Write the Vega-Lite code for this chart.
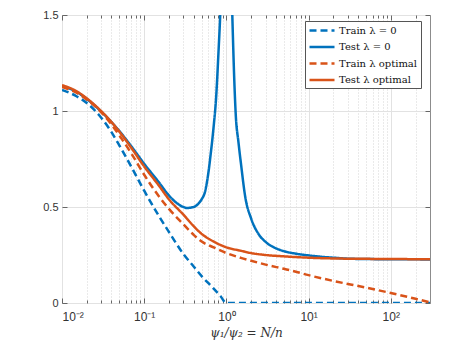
{
  "$schema": "https://vega.github.io/schema/vega-lite/v6.json",
  "width": 368,
  "height": 288,
  "autosize": "none",
  "padding": {"left": 62, "top": 15, "right": 44, "bottom": 39},
  "background": "white",
  "config": {
    "view": {"stroke": "#8c8c8c", "strokeWidth": 1},
    "font": "Liberation Sans",
    "axis": {"labelFont": "Liberation Sans", "labelFontSize": 11, "labelColor": "#333333", "tickColor": "#666666", "domain": false},
    "legend": {
      "orient": "none", "legendX": 243, "legendY": 6,
      "labelFont": "DejaVu Serif", "labelFontSize": 10, "labelColor": "#111111",
      "symbolType": "M-1,0H4", "symbolSize": 100, "symbolStrokeWidth": 2.5,
      "strokeColor": "#555555", "fillColor": "white",
      "padding": 3, "rowPadding": 4.5, "labelOffset": 18, "symbolOffset": 0
    }
  },
  "data": {
    "values": [
      {"s": "Train λ = 0", "x": 0.01, "y": 1.11},
      {"s": "Train λ = 0", "x": 0.015, "y": 1.077},
      {"s": "Train λ = 0", "x": 0.02, "y": 1.042},
      {"s": "Train λ = 0", "x": 0.03, "y": 0.965},
      {"s": "Train λ = 0", "x": 0.04, "y": 0.89},
      {"s": "Train λ = 0", "x": 0.05, "y": 0.82},
      {"s": "Train λ = 0", "x": 0.07, "y": 0.708},
      {"s": "Train λ = 0", "x": 0.1, "y": 0.585},
      {"s": "Train λ = 0", "x": 0.15, "y": 0.455},
      {"s": "Train λ = 0", "x": 0.2, "y": 0.37},
      {"s": "Train λ = 0", "x": 0.3, "y": 0.255},
      {"s": "Train λ = 0", "x": 0.4, "y": 0.19},
      {"s": "Train λ = 0", "x": 0.5, "y": 0.14},
      {"s": "Train λ = 0", "x": 0.7, "y": 0.075},
      {"s": "Train λ = 0", "x": 0.85, "y": 0.035},
      {"s": "Train λ = 0", "x": 1, "y": 0.0},
      {"s": "Train λ = 0", "x": 10, "y": 0.0},
      {"s": "Train λ = 0", "x": 300, "y": 0.0},
      {"s": "Test λ = 0", "x": 0.01, "y": 1.13},
      {"s": "Test λ = 0", "x": 0.015, "y": 1.1},
      {"s": "Test λ = 0", "x": 0.02, "y": 1.063},
      {"s": "Test λ = 0", "x": 0.03, "y": 0.997},
      {"s": "Test λ = 0", "x": 0.04, "y": 0.942},
      {"s": "Test λ = 0", "x": 0.05, "y": 0.895},
      {"s": "Test λ = 0", "x": 0.07, "y": 0.815},
      {"s": "Test λ = 0", "x": 0.1, "y": 0.725},
      {"s": "Test λ = 0", "x": 0.15, "y": 0.63},
      {"s": "Test λ = 0", "x": 0.2, "y": 0.56},
      {"s": "Test λ = 0", "x": 0.25, "y": 0.52},
      {"s": "Test λ = 0", "x": 0.3, "y": 0.5},
      {"s": "Test λ = 0", "x": 0.33, "y": 0.495},
      {"s": "Test λ = 0", "x": 0.4, "y": 0.5},
      {"s": "Test λ = 0", "x": 0.45, "y": 0.515},
      {"s": "Test λ = 0", "x": 0.5, "y": 0.54},
      {"s": "Test λ = 0", "x": 0.55, "y": 0.58},
      {"s": "Test λ = 0", "x": 0.6, "y": 0.67},
      {"s": "Test λ = 0", "x": 0.65, "y": 0.79},
      {"s": "Test λ = 0", "x": 0.7, "y": 0.92},
      {"s": "Test λ = 0", "x": 0.75, "y": 1.07},
      {"s": "Test λ = 0", "x": 0.8, "y": 1.3},
      {"s": "Test λ = 0", "x": 0.85, "y": 1.55},
      {"s": "Test λ = 0", "x": 0.9, "y": 1.9},
      {"s": "Test λ = 0", "x": 0.95, "y": 3},
      {"s": "Test λ = 0", "x": 1.05, "y": 3},
      {"s": "Test λ = 0", "x": 1.1, "y": 2.0},
      {"s": "Test λ = 0", "x": 1.18, "y": 1.5},
      {"s": "Test λ = 0", "x": 1.25, "y": 1.15},
      {"s": "Test λ = 0", "x": 1.3, "y": 0.98},
      {"s": "Test λ = 0", "x": 1.4, "y": 0.84},
      {"s": "Test λ = 0", "x": 1.5, "y": 0.73},
      {"s": "Test λ = 0", "x": 1.7, "y": 0.55},
      {"s": "Test λ = 0", "x": 2, "y": 0.44},
      {"s": "Test λ = 0", "x": 2.5, "y": 0.355},
      {"s": "Test λ = 0", "x": 3, "y": 0.318},
      {"s": "Test λ = 0", "x": 4, "y": 0.285},
      {"s": "Test λ = 0", "x": 5, "y": 0.27},
      {"s": "Test λ = 0", "x": 7, "y": 0.257},
      {"s": "Test λ = 0", "x": 10, "y": 0.248},
      {"s": "Test λ = 0", "x": 15, "y": 0.24},
      {"s": "Test λ = 0", "x": 20, "y": 0.236},
      {"s": "Test λ = 0", "x": 30, "y": 0.231},
      {"s": "Test λ = 0", "x": 50, "y": 0.229},
      {"s": "Test λ = 0", "x": 100, "y": 0.228},
      {"s": "Test λ = 0", "x": 300, "y": 0.227},
      {"s": "Train λ optimal", "x": 0.01, "y": 1.125},
      {"s": "Train λ optimal", "x": 0.015, "y": 1.095},
      {"s": "Train λ optimal", "x": 0.02, "y": 1.06},
      {"s": "Train λ optimal", "x": 0.03, "y": 0.993},
      {"s": "Train λ optimal", "x": 0.04, "y": 0.93},
      {"s": "Train λ optimal", "x": 0.05, "y": 0.872},
      {"s": "Train λ optimal", "x": 0.07, "y": 0.778},
      {"s": "Train λ optimal", "x": 0.1, "y": 0.668},
      {"s": "Train λ optimal", "x": 0.15, "y": 0.557},
      {"s": "Train λ optimal", "x": 0.2, "y": 0.49},
      {"s": "Train λ optimal", "x": 0.3, "y": 0.41},
      {"s": "Train λ optimal", "x": 0.4, "y": 0.355},
      {"s": "Train λ optimal", "x": 0.5, "y": 0.32},
      {"s": "Train λ optimal", "x": 0.7, "y": 0.29},
      {"s": "Train λ optimal", "x": 1, "y": 0.26},
      {"s": "Train λ optimal", "x": 1.5, "y": 0.235},
      {"s": "Train λ optimal", "x": 2, "y": 0.22},
      {"s": "Train λ optimal", "x": 3, "y": 0.2},
      {"s": "Train λ optimal", "x": 5, "y": 0.178},
      {"s": "Train λ optimal", "x": 7, "y": 0.163},
      {"s": "Train λ optimal", "x": 10, "y": 0.145},
      {"s": "Train λ optimal", "x": 20, "y": 0.115},
      {"s": "Train λ optimal", "x": 50, "y": 0.08},
      {"s": "Train λ optimal", "x": 100, "y": 0.052},
      {"s": "Train λ optimal", "x": 200, "y": 0.022},
      {"s": "Train λ optimal", "x": 300, "y": 0.003},
      {"s": "Test λ optimal", "x": 0.01, "y": 1.135},
      {"s": "Test λ optimal", "x": 0.015, "y": 1.103},
      {"s": "Test λ optimal", "x": 0.02, "y": 1.066},
      {"s": "Test λ optimal", "x": 0.03, "y": 0.999},
      {"s": "Test λ optimal", "x": 0.04, "y": 0.942},
      {"s": "Test λ optimal", "x": 0.05, "y": 0.892},
      {"s": "Test λ optimal", "x": 0.07, "y": 0.807},
      {"s": "Test λ optimal", "x": 0.1, "y": 0.711},
      {"s": "Test λ optimal", "x": 0.15, "y": 0.613},
      {"s": "Test λ optimal", "x": 0.2, "y": 0.54},
      {"s": "Test λ optimal", "x": 0.3, "y": 0.46},
      {"s": "Test λ optimal", "x": 0.4, "y": 0.4},
      {"s": "Test λ optimal", "x": 0.5, "y": 0.36},
      {"s": "Test λ optimal", "x": 0.7, "y": 0.32},
      {"s": "Test λ optimal", "x": 1, "y": 0.29},
      {"s": "Test λ optimal", "x": 1.5, "y": 0.272},
      {"s": "Test λ optimal", "x": 2, "y": 0.26},
      {"s": "Test λ optimal", "x": 3, "y": 0.25},
      {"s": "Test λ optimal", "x": 5, "y": 0.243},
      {"s": "Test λ optimal", "x": 10, "y": 0.236},
      {"s": "Test λ optimal", "x": 20, "y": 0.232},
      {"s": "Test λ optimal", "x": 50, "y": 0.23},
      {"s": "Test λ optimal", "x": 100, "y": 0.229},
      {"s": "Test λ optimal", "x": 300, "y": 0.228}
    ]
  },
  "layer": [
    {
      "mark": {"type": "line", "clip": true, "strokeWidth": 2.5, "strokeCap": "butt", "interpolate": "monotone"},
      "encoding": {
        "x": {
          "field": "x", "type": "quantitative",
          "scale": {"type": "log", "domain": [0.01, 300], "nice": false},
          "axis": {
            "orient": "bottom",
            "values": [0.01, 0.02, 0.03, 0.04, 0.05, 0.06, 0.07, 0.08, 0.09, 0.1, 0.2, 0.3, 0.4, 0.5, 0.6, 0.7, 0.8, 0.9, 1, 2, 3, 4, 5, 6, 7, 8, 9, 10, 20, 30, 40, 50, 60, 70, 80, 90, 100, 200],
            "labelExpr": "datum.value == 0.01 ? '10⁻²' : datum.value == 0.1 ? '10⁻¹' : datum.value == 1 ? '10⁰' : datum.value == 10 ? '10¹' : datum.value == 100 ? '10²' : ''",
            "labelOverlap": false,
            "labelPadding": 13,
            "labelFontSize": 12,
            "grid": false,
            "tickSize": {"condition": {"test": "abs(log(datum.value)/LN10 - round(log(datum.value)/LN10)) < 0.000001", "value": -5}, "value": -3},
            "title": "ψ₁/ψ₂ = N/n",
            "titleFont": "DejaVu Serif",
            "titleFontStyle": "italic",
            "titleFontWeight": "normal",
            "titleFontSize": 12,
            "titleColor": "#333333",
            "titlePadding": 3
          }
        },
        "y": {
          "field": "y", "type": "quantitative",
          "scale": {"domain": [0, 1.5], "nice": false, "zero": false},
          "axis": {
            "orient": "left",
            "values": [0, 0.5, 1, 1.5],
            "format": "~g",
            "labelPadding": 9,
            "tickSize": -5,
            "grid": true,
            "gridColor": "#e2e2e2",
            "title": null
          }
        },
        "color": {
          "field": "s", "type": "nominal",
          "scale": {"domain": ["Train λ = 0", "Test λ = 0", "Train λ optimal", "Test λ optimal"], "range": ["#0072BD", "#0072BD", "#D95319", "#D95319"]},
          "legend": {"title": null}
        },
        "strokeDash": {
          "field": "s", "type": "nominal",
          "scale": {"domain": ["Train λ = 0", "Test λ = 0", "Train λ optimal", "Test λ optimal"], "range": [[7, 4], [1, 0], [7, 4], [1, 0]]},
          "legend": {"title": null}
        }
      }
    },
    {
      "mark": {"type": "point", "opacity": 0},
      "encoding": {
        "x": {
          "field": "x", "type": "quantitative",
          "axis": {
            "orient": "top",
            "values": [0.01, 0.02, 0.03, 0.04, 0.05, 0.06, 0.07, 0.08, 0.09, 0.1, 0.2, 0.3, 0.4, 0.5, 0.6, 0.7, 0.8, 0.9, 1, 2, 3, 4, 5, 6, 7, 8, 9, 10, 20, 30, 40, 50, 60, 70, 80, 90, 100, 200],
            "labels": false,
            "title": null,
            "grid": true,
            "gridColor": {"condition": {"test": "abs(log(datum.value)/LN10 - round(log(datum.value)/LN10)) < 0.000001", "value": "#e2e2e2"}, "value": "#d4d4d4"},
            "gridDash": {"condition": {"test": "abs(log(datum.value)/LN10 - round(log(datum.value)/LN10)) < 0.000001", "value": []}, "value": [1, 2]},
            "tickSize": {"condition": {"test": "abs(log(datum.value)/LN10 - round(log(datum.value)/LN10)) < 0.000001", "value": -5}, "value": -3}
          }
        },
        "y": {
          "field": "y", "type": "quantitative",
          "axis": {
            "orient": "right",
            "values": [0, 0.5, 1, 1.5],
            "labels": false,
            "title": null,
            "grid": false,
            "tickSize": -5
          }
        }
      }
    }
  ],
  "resolve": {"axis": {"x": "independent", "y": "independent"}}
}
